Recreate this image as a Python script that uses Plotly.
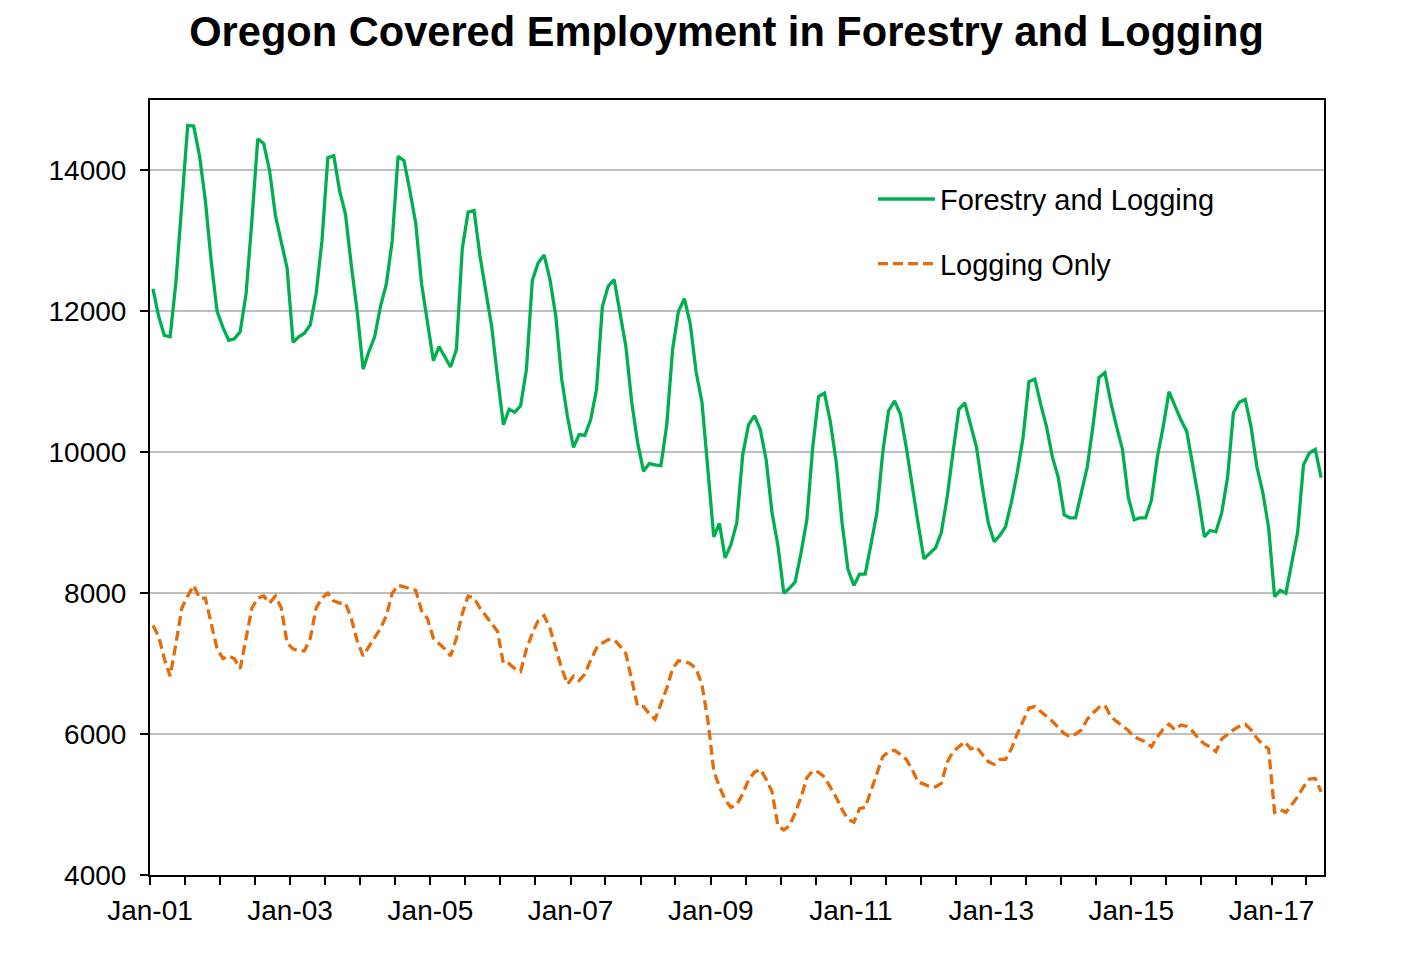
import pandas as pd
import plotly.graph_objects as go

# ── Data (monthly, Jan 2001 - Sep 2017) ──────────────────────────────────────
forestry_logging = [
    12320, 11930, 11660, 11640, 12430, 13500, 14640, 14630, 14210, 13570, 12710, 12000,
    11770, 11590, 11610, 11710, 12250, 13290, 14450, 14380, 14000, 13360, 13000, 12610,
    11560, 11640, 11690, 11810, 12250, 13000, 14180, 14210, 13710, 13380, 12650, 12000,
    11180, 11430, 11640, 12070, 12390, 13000, 14200, 14140, 13710, 13250, 12390, 11860,
    11300, 11500, 11360, 11210, 11460, 12890, 13410, 13430, 12790, 12290, 11790, 11070,
    10390, 10610, 10570, 10660, 11180, 12440, 12690, 12800, 12450, 11930, 11040, 10500,
    10070, 10250, 10240, 10460, 10890, 12070, 12360, 12450, 12000, 11500, 10710, 10140,
    9730, 9840, 9820, 9810, 10390, 11460, 12000, 12180, 11820, 11140, 10710, 9790,
    8800, 8990, 8500, 8690, 9000, 9960, 10390, 10520, 10320, 9890, 9140, 8680,
    8000, 8070, 8160, 8570, 9040, 10070, 10790, 10840, 10430, 9860, 9000, 8340,
    8110, 8270, 8270, 8700, 9140, 10000, 10590, 10730, 10540, 10070, 9500, 9000,
    8490, 8560, 8640, 8860, 9360, 10000, 10610, 10700, 10390, 10070, 9500, 9000,
    8730, 8820, 8940, 9290, 9710, 10210, 11000, 11040, 10680, 10360, 9930, 9640,
    9110, 9070, 9070, 9430, 9790, 10390, 11060, 11130, 10710, 10360, 10040, 9360,
    9040, 9070, 9070, 9320, 9930, 10360, 10860, 10660, 10460, 10300, 9820, 9360,
    8800, 8890, 8870, 9140, 9640, 10560, 10710, 10750, 10360, 9790, 9430, 8930,
    7950, 8040, 8000, 8430, 8860, 9820, 9990, 10040, 9640,
]
logging_only = [
    7540, 7390, 7070, 6820, 7290, 7790, 7960, 8110, 7930, 7930, 7570, 7210,
    7070, 7110, 7070, 6930, 7360, 7790, 7930, 7960, 7860, 7960, 7790, 7290,
    7210, 7180, 7180, 7360, 7790, 7930, 8000, 7890, 7860, 7860, 7640, 7320,
    7110, 7250, 7370, 7500, 7680, 8000, 8110, 8090, 8070, 8040, 7750, 7640,
    7360, 7290, 7210, 7110, 7360, 7710, 7960, 7930, 7790, 7680, 7570, 7460,
    7000, 7000, 6930, 6890, 7210, 7430, 7610, 7680, 7500, 7210, 6930, 6710,
    6820, 6760, 6850, 7050, 7220, 7290, 7340, 7340, 7250, 7140, 6790, 6400,
    6390, 6290, 6210, 6430, 6650, 6930, 7040, 7030, 7000, 6930, 6700, 6200,
    5480, 5250, 5070, 4960, 5000, 5150, 5350, 5460, 5500, 5360, 5180, 4700,
    4640, 4700, 4880, 5100, 5380, 5480, 5460, 5390, 5250, 5100, 4930, 4790,
    4750, 4940, 4960, 5210, 5460, 5680, 5750, 5770, 5710, 5640, 5500, 5320,
    5290, 5250, 5250, 5300, 5600, 5750, 5820, 5890, 5790, 5820, 5710, 5610,
    5570, 5640, 5640, 5790, 6000, 6180, 6370, 6390, 6320, 6250, 6180, 6090,
    6010, 5960, 6000, 6060, 6210, 6300, 6380, 6410, 6250, 6180, 6110, 6050,
    5960, 5930, 5890, 5820, 5960, 6070, 6140, 6060, 6130, 6110, 6040, 5940,
    5860, 5820, 5750, 5930, 6000, 6060, 6110, 6140, 6060, 5940, 5850, 5790,
    4890, 4930, 4890, 5000, 5110, 5250, 5360, 5370, 5180,
]
months = pd.date_range("2001-01-01", periods=len(forestry_logging), freq="MS")

# ── Style ────────────────────────────────────────────────────────────────────
GREEN  = "#00B050"
ORANGE = "#E46C0A"
GRID   = "#BFBFBF"
FONT   = "Liberation Sans, Arial, sans-serif"

fig = go.Figure()
fig.add_trace(go.Scatter(
    x=months, y=forestry_logging, name="Forestry and Logging",
    mode="lines", line=dict(color=GREEN, width=3.3),
    xperiod="M1", xperiodalignment="middle", legendgroup="a",
))
fig.add_trace(go.Scatter(
    x=months, y=logging_only, name="Logging Only",
    mode="lines", line=dict(color=ORANGE, width=3.3, dash="10px,5px"),
    xperiod="M1", xperiodalignment="middle", legendgroup="b",
))

# page body has an 8px margin, so the figure is 8px smaller than the window
fig.update_layout(
    width=1398, height=947,
    plot_bgcolor="white", paper_bgcolor="white",
    font=dict(family=FONT, size=28, color="black"),
    margin=dict(l=142, r=82, t=92, b=80),
    title=dict(
        text="<b>Oregon Covered Employment in Forestry and Logging</b>",
        x=0.514, xanchor="center", y=0.975, yanchor="middle",
        font=dict(family=FONT, size=41.6, color="black"),
    ),
    legend=dict(
        x=0.6158, y=0.905, xanchor="left", yanchor="top",
        bgcolor="rgba(0,0,0,0)", font=dict(size=29),
        traceorder="grouped", tracegroupgap=24, itemwidth=57,
    ),
    showlegend=True,
)
fig.update_xaxes(
    type="date", range=["2001-01-01", "2017-10-01"],
    tick0="2001-01-01", dtick="M24", tickformat="%b-%y",
    ticks="outside", ticklen=8, tickwidth=2, tickcolor="black",
    minor=dict(dtick="M6", ticks="outside", ticklen=8, tickwidth=2,
               tickcolor="black", showgrid=False),
    showline=True, linecolor="black", linewidth=2, mirror=True,
    showgrid=False, ticklabelstandoff=1,
)
fig.update_yaxes(
    range=[4000, 15000], tick0=4000, dtick=2000, tickformat="d",
    ticks="outside", ticklen=8, tickwidth=2, tickcolor="black",
    showline=True, linecolor="black", linewidth=2, mirror=True,
    showgrid=True, gridcolor=GRID, gridwidth=2, zeroline=False,
    ticklabelstandoff=8,
)

fig.write_html("out.html")
